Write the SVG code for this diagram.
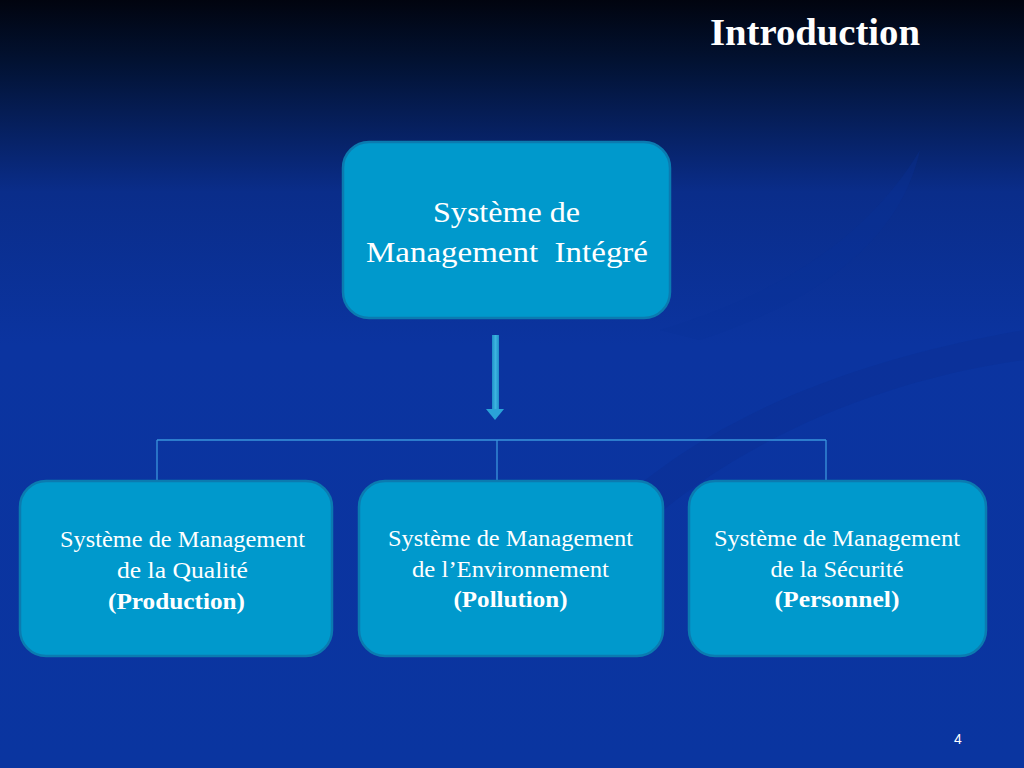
<svg xmlns="http://www.w3.org/2000/svg" width="1024" height="768" viewBox="0 0 1024 768">
<defs>
<linearGradient id="bg" x1="0" y1="0" x2="0" y2="1">
<stop offset="0" stop-color="#01040f"/>
<stop offset="0.08" stop-color="#021232"/>
<stop offset="0.25" stop-color="#0a2d8a"/>
<stop offset="0.45" stop-color="#0b34a0"/>
<stop offset="1" stop-color="#0a35a0"/>
</linearGradient>
<linearGradient id="arr" x1="0" y1="0" x2="1" y2="0">
<stop offset="0" stop-color="#1f8fc8"/>
<stop offset="0.5" stop-color="#3cb4e0"/>
<stop offset="1" stop-color="#1f8fc8"/>
</linearGradient>
<style>
.box{fill:#0099cc;stroke:#0b7bb0;stroke-width:2.5}
.t{font-family:"Liberation Serif","Times New Roman",serif;fill:#ffffff;text-anchor:middle}
.big{font-size:30px}
.sm{font-size:22.5px}
.b{font-weight:bold}
.con{stroke:#3a94dc;stroke-width:1.3;fill:none}
</style>
</defs>
<rect width="1024" height="768" fill="url(#bg)"/>
<path d="M600 520 C700 420 850 360 1024 330 L1024 360 C880 380 740 440 640 530 Z" fill="#0a2f92" opacity="0.45"/>
<path d="M660 330 C760 300 860 250 920 150 C900 240 820 300 700 340 Z" fill="#0a3198" opacity="0.3"/>
<text x="815" y="45" class="t b" font-size="38" textLength="210" lengthAdjust="spacingAndGlyphs">Introduction</text>
<g id="connectors">
<path class="con" d="M157 440 H826 M157 440 V481 M497 440 V481 M826 440 V481"/>
<rect x="492" y="335" width="7" height="78" fill="url(#arr)"/>
<path d="M486 409 L504 409 L495 420 Z" fill="#2aa3d8"/>
</g>
<g id="node-smi">
<rect class="box" x="343" y="142" width="327" height="176" rx="26"/>
<text class="t big" x="506.5" y="222" textLength="147" lengthAdjust="spacingAndGlyphs">Système de</text>
<text class="t big" x="507" y="262" textLength="282" lengthAdjust="spacingAndGlyphs" xml:space="preserve">Management  Intégré</text>
</g>
<g id="node-qualite">
<rect class="box" x="20" y="481" width="312" height="175" rx="26"/>
<text class="t sm" x="182.5" y="547" textLength="245" lengthAdjust="spacingAndGlyphs">Système de Management</text>
<text class="t sm" x="182.5" y="578" textLength="131" lengthAdjust="spacingAndGlyphs">de la Qualité</text>
<text class="t sm b" x="176.5" y="609" textLength="137" lengthAdjust="spacingAndGlyphs">(Production)</text>
</g>
<g id="node-environnement">
<rect class="box" x="359" y="481" width="304" height="175" rx="26"/>
<text class="t sm" x="510.5" y="546" textLength="245" lengthAdjust="spacingAndGlyphs">Système de Management</text>
<text class="t sm" x="510.5" y="577" textLength="197" lengthAdjust="spacingAndGlyphs">de l’Environnement</text>
<text class="t sm b" x="510.5" y="607" textLength="114" lengthAdjust="spacingAndGlyphs">(Pollution)</text>
</g>
<g id="node-securite">
<rect class="box" x="689" y="481" width="297" height="175" rx="26"/>
<text class="t sm" x="837" y="546" textLength="246" lengthAdjust="spacingAndGlyphs">Système de Management</text>
<text class="t sm" x="837" y="577" textLength="133" lengthAdjust="spacingAndGlyphs">de la Sécurité</text>
<text class="t sm b" x="837" y="607" textLength="125" lengthAdjust="spacingAndGlyphs">(Personnel)</text>
</g>
<text x="958" y="744" font-family="Liberation Sans,Arial,sans-serif" font-size="14" fill="#ffffff" text-anchor="middle">4</text>
</svg>
